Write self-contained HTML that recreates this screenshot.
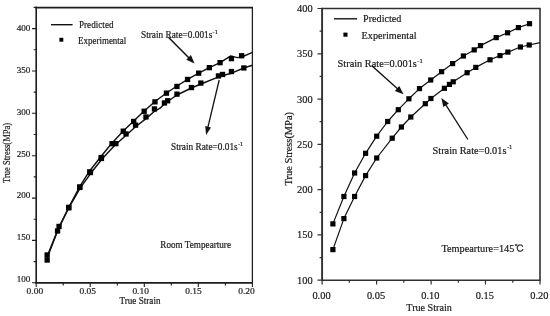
<!DOCTYPE html>
<html><head><meta charset="utf-8"><title>True Stress vs True Strain</title>
<style>html,body{margin:0;padding:0;background:#fff;}svg{display:block;}text{font-family:"Liberation Serif", "Noto Serif CJK SC", serif;fill:#1a1a1a;stroke:#1a1a1a;stroke-width:0.2px;}</style>
</head><body>
<svg width="550" height="316" viewBox="0 0 550 316">
<rect width="550" height="316" fill="#fff"/>
<g id="left">
<path d="M36.2 6.8V283.6" stroke="#1c1c1c" stroke-width="1.6" fill="none"/>
<path d="M35.4 282.8H253.0" stroke="#1c1c1c" stroke-width="1.7" fill="none"/>
<path d="M35.4 7.6H253.0" stroke="#1c1c1c" stroke-width="1.6" fill="none"/>
<path d="M252.4 7.6V282.8" stroke="#1c1c1c" stroke-width="1.25" fill="none"/>
<path d="M36.2 282.8H32.0M36.2 240.4H32.0M36.2 198.1H32.0M36.2 155.7H32.0M36.2 113.3H32.0M36.2 71.0H32.0M36.2 28.6H32.0M36.2 261.6H33.7M36.2 219.2H33.7M36.2 176.9H33.7M36.2 134.5H33.7M36.2 92.1H33.7M36.2 49.8H33.7M36.2 7.4H33.7M36.2 282.8V287.1M90.2 282.8V287.1M144.3 282.8V287.1M198.3 282.8V287.1M252.4 282.8V287.1M63.2 282.8V285.4M117.3 282.8V285.4M171.3 282.8V285.4M225.4 282.8V285.4" stroke="#1c1c1c" stroke-width="1.1" fill="none"/>
<text x="16.8" y="281.8" font-size="9.2" textLength="13.6" lengthAdjust="spacingAndGlyphs">100</text>
<text x="16.8" y="240.1" font-size="9.2" textLength="13.6" lengthAdjust="spacingAndGlyphs">150</text>
<text x="16.8" y="198.3" font-size="9.2" textLength="13.6" lengthAdjust="spacingAndGlyphs">200</text>
<text x="16.8" y="156.5" font-size="9.2" textLength="13.6" lengthAdjust="spacingAndGlyphs">250</text>
<text x="16.8" y="114.7" font-size="9.2" textLength="13.6" lengthAdjust="spacingAndGlyphs">300</text>
<text x="16.8" y="73.0" font-size="9.2" textLength="13.6" lengthAdjust="spacingAndGlyphs">350</text>
<text x="16.8" y="31.2" font-size="9.2" textLength="13.6" lengthAdjust="spacingAndGlyphs">400</text>
<text x="26.6" y="293.7" font-size="9.2" textLength="16.5" lengthAdjust="spacingAndGlyphs">0.00</text>
<text x="79.5" y="293.7" font-size="9.2" textLength="16.5" lengthAdjust="spacingAndGlyphs">0.05</text>
<text x="132.4" y="293.7" font-size="9.2" textLength="16.5" lengthAdjust="spacingAndGlyphs">0.10</text>
<text x="185.3" y="293.7" font-size="9.2" textLength="16.5" lengthAdjust="spacingAndGlyphs">0.15</text>
<text x="238.2" y="293.7" font-size="9.2" textLength="16.5" lengthAdjust="spacingAndGlyphs">0.20</text>
<text x="119.5" y="304.4" font-size="9.8" textLength="41.0" lengthAdjust="spacingAndGlyphs">True Strain</text>
<text transform="translate(10.3,152.9) rotate(-90)" font-size="9.8" text-anchor="middle" textLength="60" lengthAdjust="spacingAndGlyphs">True Stress(MPa)</text>
<line x1="51" y1="24.7" x2="72.6" y2="24.7" stroke="#111" stroke-width="1.4"/>
<rect x="59.4" y="37.8" width="3.9" height="3.9" fill="#000"/>
<text x="79.0" y="28.0" font-size="10.0" textLength="34.5" lengthAdjust="spacingAndGlyphs">Predicted</text>
<text x="78.1" y="43.8" font-size="10.0" textLength="48.2" lengthAdjust="spacingAndGlyphs">Experimental</text>
<text x="141.0" y="38.1" font-size="9.9" textLength="71.3" lengthAdjust="spacingAndGlyphs">Strain Rate=0.001s</text><text x="212.6" y="34.1" font-size="6.2">-1</text>
<text x="171.0" y="149.5" font-size="9.9" textLength="66.7" lengthAdjust="spacingAndGlyphs">Strain Rate=0.01s</text><text x="238.0" y="145.5" font-size="6.2">-1</text>
<text x="160.3" y="248.0" font-size="9.9" textLength="70.7" lengthAdjust="spacingAndGlyphs">Room Tempearture</text>
<line x1="168.4" y1="37.2" x2="189.3" y2="58.2" stroke="#111" stroke-width="1.50"/><polygon points="194.6,63.5 186.3,59.8 190.9,55.1" fill="#111"/>
<line x1="219.2" y1="80.0" x2="207.8" y2="127.7" stroke="#111" stroke-width="1.30"/><polygon points="206.1,135.0 205.2,126.0 211.0,127.4" fill="#111"/>
<polyline fill="none" stroke="#111" stroke-width="1.45" stroke-linejoin="round" points="47.1,256.5 58.5,228.0 68.8,207.3 79.6,186.8 89.4,171.2 100.8,156.7 111.8,143.2 123.3,131.0 133.7,121.0 144.2,111.0 155.0,101.5 166.5,93.0 177.0,86.0 187.6,79.4 198.7,73.2 209.3,67.7 220.1,62.6 230.8,55.9 237.2,57.6 241.8,57.0 252.4,52.3"/>
<polyline fill="none" stroke="#111" stroke-width="1.45" stroke-linejoin="round" points="47.1,258.0 58.0,230.0 68.8,207.8 80.1,188.2 90.8,173.3 101.8,159.3 114.3,145.8 126.1,135.3 135.6,126.8 146.0,118.6 154.5,111.3 160.0,108.2 166.0,102.5 177.0,95.0 191.4,88.0 200.9,84.0 220.0,76.3 231.5,73.2 243.8,68.0 252.4,65.3"/>
<rect x="44.5" y="252.3" width="5.3" height="5.3" fill="#000"/><rect x="56.4" y="223.8" width="5.3" height="5.3" fill="#000"/><rect x="66.1" y="204.7" width="5.3" height="5.3" fill="#000"/><rect x="77.1" y="184.3" width="5.3" height="5.3" fill="#000"/><rect x="87.1" y="169.2" width="5.3" height="5.3" fill="#000"/><rect x="98.5" y="154.9" width="5.3" height="5.3" fill="#000"/><rect x="109.4" y="141.0" width="5.3" height="5.3" fill="#000"/><rect x="120.6" y="128.5" width="5.3" height="5.3" fill="#000"/><rect x="131.0" y="118.8" width="5.3" height="5.3" fill="#000"/><rect x="141.5" y="108.6" width="5.3" height="5.3" fill="#000"/><rect x="152.3" y="99.2" width="5.3" height="5.3" fill="#000"/><rect x="163.8" y="90.5" width="5.3" height="5.3" fill="#000"/><rect x="174.3" y="83.8" width="5.3" height="5.3" fill="#000"/><rect x="184.9" y="76.8" width="5.3" height="5.3" fill="#000"/><rect x="196.0" y="70.5" width="5.3" height="5.3" fill="#000"/><rect x="206.7" y="65.0" width="5.3" height="5.3" fill="#000"/><rect x="217.4" y="60.0" width="5.3" height="5.3" fill="#000"/><rect x="228.8" y="56.0" width="5.3" height="5.3" fill="#000"/><rect x="239.0" y="53.1" width="5.3" height="5.3" fill="#000"/>
<rect x="44.5" y="257.4" width="5.3" height="5.3" fill="#000"/><rect x="54.9" y="228.3" width="5.3" height="5.3" fill="#000"/><rect x="66.1" y="205.2" width="5.3" height="5.3" fill="#000"/><rect x="77.1" y="184.8" width="5.3" height="5.3" fill="#000"/><rect x="87.8" y="169.9" width="5.3" height="5.3" fill="#000"/><rect x="98.8" y="155.8" width="5.3" height="5.3" fill="#000"/><rect x="113.2" y="141.0" width="5.3" height="5.3" fill="#000"/><rect x="123.4" y="131.3" width="5.3" height="5.3" fill="#000"/><rect x="132.9" y="122.5" width="5.3" height="5.3" fill="#000"/><rect x="143.3" y="114.3" width="5.3" height="5.3" fill="#000"/><rect x="151.8" y="106.3" width="5.3" height="5.3" fill="#000"/><rect x="161.8" y="100.3" width="5.3" height="5.3" fill="#000"/><rect x="165.0" y="98.1" width="5.3" height="5.3" fill="#000"/><rect x="174.3" y="91.5" width="5.3" height="5.3" fill="#000"/><rect x="188.8" y="84.9" width="5.3" height="5.3" fill="#000"/><rect x="198.2" y="80.4" width="5.3" height="5.3" fill="#000"/><rect x="215.8" y="73.3" width="5.3" height="5.3" fill="#000"/><rect x="219.9" y="71.8" width="5.3" height="5.3" fill="#000"/><rect x="228.8" y="68.9" width="5.3" height="5.3" fill="#000"/><rect x="241.2" y="65.3" width="5.3" height="5.3" fill="#000"/>
</g>
<g id="right">
<path d="M322.1 7.8V280.9" stroke="#303030" stroke-width="1.9" fill="none"/>
<path d="M322.1 280.2H540.7" stroke="#303030" stroke-width="1.5" fill="none"/>
<path d="M322.1 8.5H540.7" stroke="#303030" stroke-width="1.4" fill="none"/>
<path d="M540.0 8.5V280.2" stroke="#303030" stroke-width="1.6" fill="none"/>
<path d="M322.1 280.2H317.5M322.1 234.9H317.5M322.1 189.6H317.5M322.1 144.3H317.5M322.1 99.1H317.5M322.1 53.8H317.5M322.1 8.5H317.5M322.1 257.6H319.6M322.1 212.3H319.6M322.1 167.0H319.6M322.1 121.7H319.6M322.1 76.4H319.6M322.1 31.1H319.6M322.1 280.2V284.6M376.6 280.2V284.6M431.1 280.2V284.6M485.5 280.2V284.6M540.0 280.2V284.6M349.3 280.2V282.7M403.8 280.2V282.7M458.3 280.2V282.7M512.8 280.2V282.7" stroke="#303030" stroke-width="1.2" fill="none"/>
<text x="312.6" y="283.7" font-size="10.4" text-anchor="end">100</text>
<text x="312.6" y="238.4" font-size="10.4" text-anchor="end">150</text>
<text x="312.6" y="193.1" font-size="10.4" text-anchor="end">200</text>
<text x="312.6" y="147.8" font-size="10.4" text-anchor="end">250</text>
<text x="312.6" y="102.6" font-size="10.4" text-anchor="end">300</text>
<text x="312.6" y="57.3" font-size="10.4" text-anchor="end">350</text>
<text x="312.6" y="12.0" font-size="10.4" text-anchor="end">400</text>
<text x="321.5" y="299.0" font-size="10.4" text-anchor="middle">0.00</text>
<text x="376.0" y="299.0" font-size="10.4" text-anchor="middle">0.05</text>
<text x="430.4" y="299.0" font-size="10.4" text-anchor="middle">0.10</text>
<text x="484.9" y="299.0" font-size="10.4" text-anchor="middle">0.15</text>
<text x="539.4" y="299.0" font-size="10.4" text-anchor="middle">0.20</text>
<text x="406.3" y="310.8" font-size="10.6" textLength="45.5" lengthAdjust="spacingAndGlyphs">True Strain</text>
<text transform="translate(292.4,148.7) rotate(-90)" font-size="10.7" text-anchor="middle" textLength="73.4" lengthAdjust="spacingAndGlyphs">True Stress(MPa)</text>
<line x1="334" y1="18.8" x2="357.1" y2="18.8" stroke="#111" stroke-width="1.4"/>
<rect x="343.4" y="32.6" width="4.1" height="4.1" fill="#000"/>
<text x="363.1" y="22.0" font-size="10.7" textLength="38.2" lengthAdjust="spacingAndGlyphs">Predicted</text>
<text x="361.6" y="38.6" font-size="10.7" textLength="54.9" lengthAdjust="spacingAndGlyphs">Experimental</text>
<text x="337.6" y="66.9" font-size="10.7" textLength="79.3" lengthAdjust="spacingAndGlyphs">Strain Rate=0.001s</text><text x="417.3" y="62.5" font-size="6.6">-1</text>
<text x="432.6" y="153.7" font-size="10.7" textLength="73.8" lengthAdjust="spacingAndGlyphs">Strain Rate=0.01s</text><text x="506.9" y="149.3" font-size="6.6">-1</text>
<text x="441.5" y="251.5" font-size="10.7"><tspan textLength="72.8" lengthAdjust="spacingAndGlyphs">Tempearture=145</tspan><tspan x="514.6" font-size="9.8" style="font-family:IPAGothic,'WenQuanYi Zen Hei',sans-serif">℃</tspan></text>
<line x1="371.6" y1="65.5" x2="397.8" y2="89.0" stroke="#111" stroke-width="1.40"/><polygon points="403.5,94.2 394.8,90.9 399.3,85.9" fill="#111"/>
<line x1="467.9" y1="139.5" x2="445.5" y2="104.4" stroke="#111" stroke-width="1.30"/><polygon points="441.4,97.9 448.9,103.5 443.3,107.0" fill="#111"/>
<polyline fill="none" stroke="#111" stroke-width="1.20" stroke-linejoin="round" points="332.9,223.9 343.9,196.5 354.6,173.0 365.6,153.3 376.7,136.2 387.7,121.5 398.3,109.7 408.9,98.8 419.5,88.6 430.7,80.0 441.6,71.7 452.6,63.6 463.4,56.0 474.2,49.9 480.5,45.6 496.2,37.6 507.6,32.8 518.4,27.6 529.5,23.7"/>
<polyline fill="none" stroke="#111" stroke-width="1.20" stroke-linejoin="round" points="332.9,249.6 343.9,218.6 354.6,196.5 365.6,175.6 376.7,158.0 392.2,138.2 401.4,127.0 410.8,117.0 425.3,103.7 430.9,98.5 444.4,88.3 449.4,84.4 453.2,81.8 467.1,72.7 475.8,67.4 490.0,59.8 500.0,55.6 507.9,52.1 520.4,47.0 529.2,45.0 540.0,42.7"/>
<rect x="330.3" y="221.3" width="5.2" height="5.2" fill="#000"/><rect x="341.3" y="193.9" width="5.2" height="5.2" fill="#000"/><rect x="352.0" y="170.4" width="5.2" height="5.2" fill="#000"/><rect x="363.0" y="150.7" width="5.2" height="5.2" fill="#000"/><rect x="374.1" y="133.6" width="5.2" height="5.2" fill="#000"/><rect x="385.1" y="118.9" width="5.2" height="5.2" fill="#000"/><rect x="395.7" y="107.1" width="5.2" height="5.2" fill="#000"/><rect x="406.3" y="96.2" width="5.2" height="5.2" fill="#000"/><rect x="416.9" y="86.0" width="5.2" height="5.2" fill="#000"/><rect x="428.1" y="77.4" width="5.2" height="5.2" fill="#000"/><rect x="439.0" y="69.1" width="5.2" height="5.2" fill="#000"/><rect x="450.0" y="61.0" width="5.2" height="5.2" fill="#000"/><rect x="460.8" y="53.4" width="5.2" height="5.2" fill="#000"/><rect x="471.6" y="47.3" width="5.2" height="5.2" fill="#000"/><rect x="477.9" y="43.0" width="5.2" height="5.2" fill="#000"/><rect x="493.6" y="35.0" width="5.2" height="5.2" fill="#000"/><rect x="505.0" y="30.2" width="5.2" height="5.2" fill="#000"/><rect x="515.8" y="25.0" width="5.2" height="5.2" fill="#000"/><rect x="526.9" y="21.1" width="5.2" height="5.2" fill="#000"/>
<rect x="330.3" y="247.0" width="5.2" height="5.2" fill="#000"/><rect x="341.3" y="216.0" width="5.2" height="5.2" fill="#000"/><rect x="352.0" y="193.9" width="5.2" height="5.2" fill="#000"/><rect x="363.0" y="173.0" width="5.2" height="5.2" fill="#000"/><rect x="374.1" y="155.4" width="5.2" height="5.2" fill="#000"/><rect x="389.6" y="135.6" width="5.2" height="5.2" fill="#000"/><rect x="398.8" y="124.4" width="5.2" height="5.2" fill="#000"/><rect x="408.2" y="114.4" width="5.2" height="5.2" fill="#000"/><rect x="422.7" y="101.1" width="5.2" height="5.2" fill="#000"/><rect x="428.3" y="95.9" width="5.2" height="5.2" fill="#000"/><rect x="441.8" y="85.7" width="5.2" height="5.2" fill="#000"/><rect x="446.8" y="81.8" width="5.2" height="5.2" fill="#000"/><rect x="450.6" y="79.2" width="5.2" height="5.2" fill="#000"/><rect x="464.5" y="70.1" width="5.2" height="5.2" fill="#000"/><rect x="473.2" y="64.8" width="5.2" height="5.2" fill="#000"/><rect x="487.4" y="57.2" width="5.2" height="5.2" fill="#000"/><rect x="497.4" y="53.0" width="5.2" height="5.2" fill="#000"/><rect x="505.3" y="49.5" width="5.2" height="5.2" fill="#000"/><rect x="517.8" y="44.4" width="5.2" height="5.2" fill="#000"/><rect x="526.6" y="42.4" width="5.2" height="5.2" fill="#000"/>
</g>
</svg></body></html>
